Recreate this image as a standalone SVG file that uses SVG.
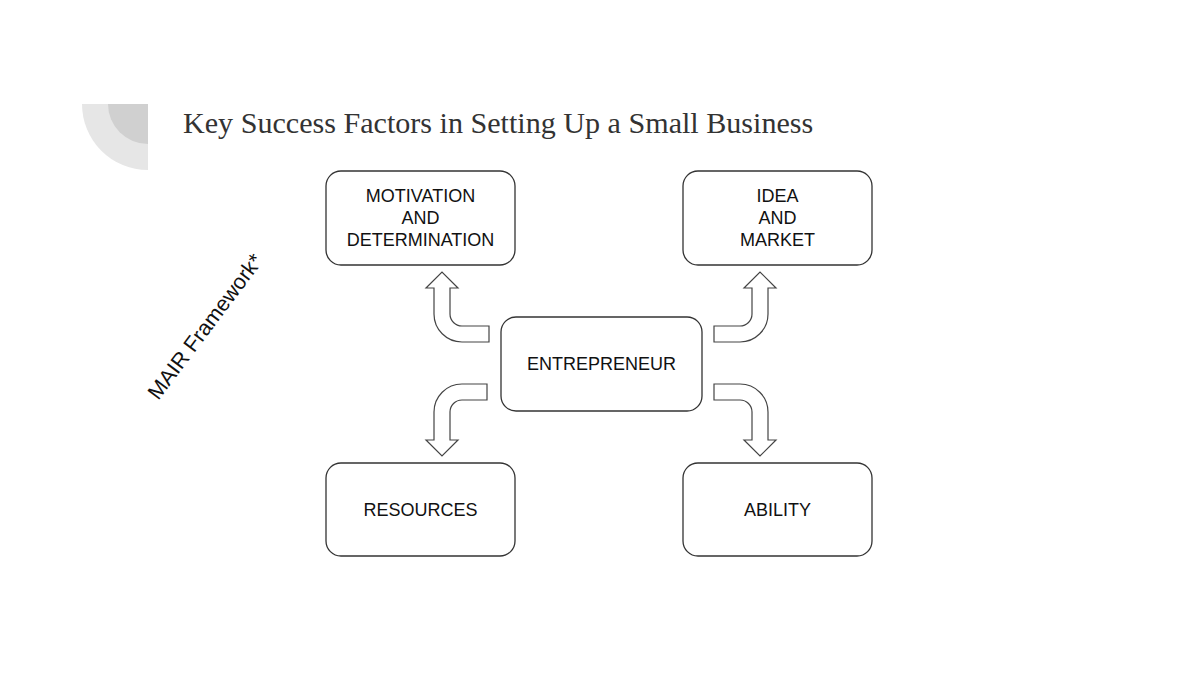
<svg xmlns="http://www.w3.org/2000/svg" width="1200" height="675" viewBox="0 0 1200 675">
<style>
.box{fill:#fff;stroke:#333;stroke-width:1.3}
.lbl{font-family:"Liberation Sans",Arial,sans-serif;font-size:18px;fill:#111;text-anchor:middle}
.arr{fill:#fff;stroke:#444;stroke-width:1.2;stroke-linejoin:miter}
</style>
<rect width="1200" height="675" fill="#fff"/>
<g id="decor">
<path d="M148,104 V170 A66,66 0 0 1 82,104 Z" fill="#e6e6e6"/>
<path d="M148,104 V144 A40,40 0 0 1 108,104 Z" fill="#d0d0d0"/>
</g>
<text x="183" y="133" font-family="'Liberation Serif','Times New Roman',serif" font-size="30.1" fill="#333">Key Success Factors in Setting Up a Small Business</text>
<text transform="translate(211,331) rotate(-53)" font-family="'Liberation Sans',Arial,sans-serif" font-size="21.5" fill="#111" text-anchor="middle">MAIR Framework*</text>
<g id="connectors">
<path class="arr" d="M489,326 H462 A12,12 0 0 1 450,314 V288 H458 L442,272 L426,288 H434 V314 A28,28 0 0 0 462,342 H489 Z"/>
<path class="arr" d="M487,384 H462 A28,28 0 0 0 434,412 V440 H426 L442,456 L458,440 H450 V412 A12,12 0 0 1 462,400 H487 Z"/>
<path class="arr" d="M714,326 H740 A12,12 0 0 0 752,314 V288 H744 L760,272 L776,288 H768 V314 A28,28 0 0 1 740,342 H714 Z"/>
<path class="arr" d="M714,384 H740 A28,28 0 0 1 768,412 V440 H776 L760,456 L744,440 H752 V412 A12,12 0 0 0 740,400 H714 Z"/>
</g>
<g id="motivation">
<rect class="box" x="326" y="171" width="189" height="94" rx="15"/>
<text class="lbl" x="420.5" y="202">MOTIVATION</text>
<text class="lbl" x="420.5" y="224">AND</text>
<text class="lbl" x="420.5" y="246">DETERMINATION</text>
</g>
<g id="idea">
<rect class="box" x="683" y="171" width="189" height="94" rx="15"/>
<text class="lbl" x="777.5" y="202">IDEA</text>
<text class="lbl" x="777.5" y="224">AND</text>
<text class="lbl" x="777.5" y="246">MARKET</text>
</g>
<g id="entrepreneur">
<rect class="box" x="501" y="317" width="201" height="94" rx="15"/>
<text class="lbl" x="601.5" y="370">ENTREPRENEUR</text>
</g>
<g id="resources">
<rect class="box" x="326" y="463" width="189" height="93" rx="15"/>
<text class="lbl" x="420.5" y="516">RESOURCES</text>
</g>
<g id="ability">
<rect class="box" x="683" y="463" width="189" height="93" rx="15"/>
<text class="lbl" x="777.5" y="516">ABILITY</text>
</g>
</svg>
